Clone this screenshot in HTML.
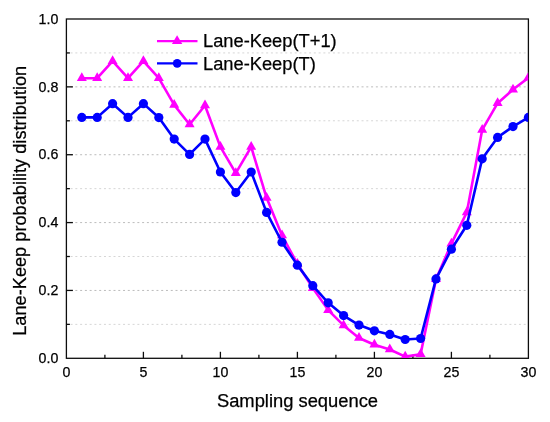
<!DOCTYPE html>
<html><head><meta charset="utf-8"><title>Lane-Keep probability distribution</title>
<style>html,body{margin:0;padding:0;background:#fff}svg{display:block}text{font-family:"Liberation Sans",Arial,sans-serif;fill:#000;stroke:#000;stroke-width:0.25px}</style></head><body>
<svg width="550" height="422" viewBox="0 0 550 422">
<rect width="550" height="422" fill="#fff"/>
<line x1="65.8" x2="528.4" y1="324.37" y2="324.37" stroke="#d6d6d6" stroke-width="1" stroke-dasharray="2 2.77"/>
<line x1="65.8" x2="528.4" y1="290.44" y2="290.44" stroke="#bcbcbc" stroke-width="1" stroke-dasharray="2 2.77"/>
<line x1="65.8" x2="528.4" y1="256.51" y2="256.51" stroke="#d6d6d6" stroke-width="1" stroke-dasharray="2 2.77"/>
<line x1="65.8" x2="528.4" y1="222.58" y2="222.58" stroke="#bcbcbc" stroke-width="1" stroke-dasharray="2 2.77"/>
<line x1="65.8" x2="528.4" y1="188.65" y2="188.65" stroke="#d6d6d6" stroke-width="1" stroke-dasharray="2 2.77"/>
<line x1="65.8" x2="528.4" y1="154.72" y2="154.72" stroke="#bcbcbc" stroke-width="1" stroke-dasharray="2 2.77"/>
<line x1="65.8" x2="528.4" y1="120.79" y2="120.79" stroke="#d6d6d6" stroke-width="1" stroke-dasharray="2 2.77"/>
<line x1="65.8" x2="528.4" y1="86.86" y2="86.86" stroke="#bcbcbc" stroke-width="1" stroke-dasharray="2 2.77"/>
<line x1="65.8" x2="528.4" y1="52.93" y2="52.93" stroke="#d6d6d6" stroke-width="1" stroke-dasharray="2 2.77"/>
<rect x="66.4" y="19.0" width="462.0" height="339.3" fill="none" stroke="#0d0d0d" stroke-width="1.3"/>
<line x1="66.4" x2="69.9" y1="324.37" y2="324.37" stroke="#0d0d0d" stroke-width="1.3"/>
<line x1="66.4" x2="72.9" y1="290.44" y2="290.44" stroke="#0d0d0d" stroke-width="1.3"/>
<line x1="66.4" x2="69.9" y1="256.51" y2="256.51" stroke="#0d0d0d" stroke-width="1.3"/>
<line x1="66.4" x2="72.9" y1="222.58" y2="222.58" stroke="#0d0d0d" stroke-width="1.3"/>
<line x1="66.4" x2="69.9" y1="188.65" y2="188.65" stroke="#0d0d0d" stroke-width="1.3"/>
<line x1="66.4" x2="72.9" y1="154.72" y2="154.72" stroke="#0d0d0d" stroke-width="1.3"/>
<line x1="66.4" x2="69.9" y1="120.79" y2="120.79" stroke="#0d0d0d" stroke-width="1.3"/>
<line x1="66.4" x2="72.9" y1="86.86" y2="86.86" stroke="#0d0d0d" stroke-width="1.3"/>
<line x1="66.4" x2="69.9" y1="52.93" y2="52.93" stroke="#0d0d0d" stroke-width="1.3"/>
<line x1="104.90" x2="104.90" y1="358.3" y2="354.8" stroke="#0d0d0d" stroke-width="1.3"/>
<line x1="143.40" x2="143.40" y1="358.3" y2="351.8" stroke="#0d0d0d" stroke-width="1.3"/>
<line x1="181.90" x2="181.90" y1="358.3" y2="354.8" stroke="#0d0d0d" stroke-width="1.3"/>
<line x1="220.40" x2="220.40" y1="358.3" y2="351.8" stroke="#0d0d0d" stroke-width="1.3"/>
<line x1="258.90" x2="258.90" y1="358.3" y2="354.8" stroke="#0d0d0d" stroke-width="1.3"/>
<line x1="297.40" x2="297.40" y1="358.3" y2="351.8" stroke="#0d0d0d" stroke-width="1.3"/>
<line x1="335.90" x2="335.90" y1="358.3" y2="354.8" stroke="#0d0d0d" stroke-width="1.3"/>
<line x1="374.40" x2="374.40" y1="358.3" y2="351.8" stroke="#0d0d0d" stroke-width="1.3"/>
<line x1="412.90" x2="412.90" y1="358.3" y2="354.8" stroke="#0d0d0d" stroke-width="1.3"/>
<line x1="451.40" x2="451.40" y1="358.3" y2="351.8" stroke="#0d0d0d" stroke-width="1.3"/>
<line x1="489.90" x2="489.90" y1="358.3" y2="354.8" stroke="#0d0d0d" stroke-width="1.3"/>
<defs><clipPath id="c"><rect x="66.4" y="19.0" width="461.80" height="339.00"/></clipPath></defs>
<g clip-path="url(#c)">
<polyline points="81.80,78.21 97.20,78.21 112.60,61.07 128.00,78.21 143.40,61.07 158.80,78.21 174.20,104.84 189.60,124.52 205.00,105.52 220.40,146.92 235.80,173.04 251.20,146.92 266.60,197.81 282.00,235.47 297.40,263.97 312.80,288.06 328.20,310.12 343.60,325.39 359.00,337.94 374.40,344.73 389.80,349.48 405.20,356.60 420.60,354.23 436.00,279.24 451.40,243.62 466.80,212.40 482.20,129.78 497.60,103.15 513.00,89.57 528.40,77.70" fill="none" stroke="#ff00ff" stroke-width="2.6" stroke-linejoin="round"/>
<polygon points="81.80,72.31 76.80,81.06 86.80,81.06" fill="#ff00ff"/>
<polygon points="97.20,72.31 92.20,81.06 102.20,81.06" fill="#ff00ff"/>
<polygon points="112.60,55.17 107.60,63.92 117.60,63.92" fill="#ff00ff"/>
<polygon points="128.00,72.31 123.00,81.06 133.00,81.06" fill="#ff00ff"/>
<polygon points="143.40,55.17 138.40,63.92 148.40,63.92" fill="#ff00ff"/>
<polygon points="158.80,72.31 153.80,81.06 163.80,81.06" fill="#ff00ff"/>
<polygon points="174.20,98.94 169.20,107.69 179.20,107.69" fill="#ff00ff"/>
<polygon points="189.60,118.62 184.60,127.37 194.60,127.37" fill="#ff00ff"/>
<polygon points="205.00,99.62 200.00,108.37 210.00,108.37" fill="#ff00ff"/>
<polygon points="220.40,141.02 215.40,149.77 225.40,149.77" fill="#ff00ff"/>
<polygon points="235.80,167.14 230.80,175.89 240.80,175.89" fill="#ff00ff"/>
<polygon points="251.20,141.02 246.20,149.77 256.20,149.77" fill="#ff00ff"/>
<polygon points="266.60,191.91 261.60,200.66 271.60,200.66" fill="#ff00ff"/>
<polygon points="282.00,229.57 277.00,238.32 287.00,238.32" fill="#ff00ff"/>
<polygon points="297.40,258.07 292.40,266.82 302.40,266.82" fill="#ff00ff"/>
<polygon points="312.80,282.16 307.80,290.91 317.80,290.91" fill="#ff00ff"/>
<polygon points="328.20,304.22 323.20,312.97 333.20,312.97" fill="#ff00ff"/>
<polygon points="343.60,319.49 338.60,328.24 348.60,328.24" fill="#ff00ff"/>
<polygon points="359.00,332.04 354.00,340.79 364.00,340.79" fill="#ff00ff"/>
<polygon points="374.40,338.83 369.40,347.58 379.40,347.58" fill="#ff00ff"/>
<polygon points="389.80,343.58 384.80,352.33 394.80,352.33" fill="#ff00ff"/>
<polygon points="405.20,350.70 400.20,359.45 410.20,359.45" fill="#ff00ff"/>
<polygon points="420.60,348.33 415.60,357.08 425.60,357.08" fill="#ff00ff"/>
<polygon points="436.00,273.34 431.00,282.09 441.00,282.09" fill="#ff00ff"/>
<polygon points="451.40,237.72 446.40,246.47 456.40,246.47" fill="#ff00ff"/>
<polygon points="466.80,206.50 461.80,215.25 471.80,215.25" fill="#ff00ff"/>
<polygon points="482.20,123.88 477.20,132.63 487.20,132.63" fill="#ff00ff"/>
<polygon points="497.60,97.25 492.60,106.00 502.60,106.00" fill="#ff00ff"/>
<polygon points="513.00,83.67 508.00,92.42 518.00,92.42" fill="#ff00ff"/>
<polygon points="528.40,71.80 523.40,80.55 533.40,80.55" fill="#ff00ff"/>
<polyline points="81.80,117.40 97.20,117.40 112.60,103.66 128.00,117.40 143.40,103.66 158.80,117.57 174.20,139.11 189.60,154.38 205.00,139.11 220.40,172.02 235.80,192.55 251.20,172.02 266.60,212.40 282.00,242.26 297.40,265.13 312.80,285.69 328.20,302.82 343.60,315.55 359.00,325.05 374.40,330.82 389.80,334.41 405.20,339.50 420.60,338.48 436.00,278.90 451.40,249.22 466.80,225.29 482.20,158.79 497.60,137.42 513.00,126.56 528.40,117.40" fill="none" stroke="#0000ff" stroke-width="2.6" stroke-linejoin="round"/>
<circle cx="81.80" cy="117.40" r="4.6" fill="#0000ff"/>
<circle cx="97.20" cy="117.40" r="4.6" fill="#0000ff"/>
<circle cx="112.60" cy="103.66" r="4.6" fill="#0000ff"/>
<circle cx="128.00" cy="117.40" r="4.6" fill="#0000ff"/>
<circle cx="143.40" cy="103.66" r="4.6" fill="#0000ff"/>
<circle cx="158.80" cy="117.57" r="4.6" fill="#0000ff"/>
<circle cx="174.20" cy="139.11" r="4.6" fill="#0000ff"/>
<circle cx="189.60" cy="154.38" r="4.6" fill="#0000ff"/>
<circle cx="205.00" cy="139.11" r="4.6" fill="#0000ff"/>
<circle cx="220.40" cy="172.02" r="4.6" fill="#0000ff"/>
<circle cx="235.80" cy="192.55" r="4.6" fill="#0000ff"/>
<circle cx="251.20" cy="172.02" r="4.6" fill="#0000ff"/>
<circle cx="266.60" cy="212.40" r="4.6" fill="#0000ff"/>
<circle cx="282.00" cy="242.26" r="4.6" fill="#0000ff"/>
<circle cx="297.40" cy="265.13" r="4.6" fill="#0000ff"/>
<circle cx="312.80" cy="285.69" r="4.6" fill="#0000ff"/>
<circle cx="328.20" cy="302.82" r="4.6" fill="#0000ff"/>
<circle cx="343.60" cy="315.55" r="4.6" fill="#0000ff"/>
<circle cx="359.00" cy="325.05" r="4.6" fill="#0000ff"/>
<circle cx="374.40" cy="330.82" r="4.6" fill="#0000ff"/>
<circle cx="389.80" cy="334.41" r="4.6" fill="#0000ff"/>
<circle cx="405.20" cy="339.50" r="4.6" fill="#0000ff"/>
<circle cx="420.60" cy="338.48" r="4.6" fill="#0000ff"/>
<circle cx="436.00" cy="278.90" r="4.6" fill="#0000ff"/>
<circle cx="451.40" cy="249.22" r="4.6" fill="#0000ff"/>
<circle cx="466.80" cy="225.29" r="4.6" fill="#0000ff"/>
<circle cx="482.20" cy="158.79" r="4.6" fill="#0000ff"/>
<circle cx="497.60" cy="137.42" r="4.6" fill="#0000ff"/>
<circle cx="513.00" cy="126.56" r="4.6" fill="#0000ff"/>
<circle cx="528.40" cy="117.40" r="4.6" fill="#0000ff"/>
</g>
<text x="58.3" y="362.9" font-size="14.2" text-anchor="end">0.0</text>
<text x="58.3" y="295.0" font-size="14.2" text-anchor="end">0.2</text>
<text x="58.3" y="227.2" font-size="14.2" text-anchor="end">0.4</text>
<text x="58.3" y="159.3" font-size="14.2" text-anchor="end">0.6</text>
<text x="58.3" y="91.5" font-size="14.2" text-anchor="end">0.8</text>
<text x="58.3" y="23.6" font-size="14.2" text-anchor="end">1.0</text>
<text x="66.4" y="376.9" font-size="14.2" text-anchor="middle">0</text>
<text x="143.4" y="376.9" font-size="14.2" text-anchor="middle">5</text>
<text x="220.4" y="376.9" font-size="14.2" text-anchor="middle">10</text>
<text x="297.4" y="376.9" font-size="14.2" text-anchor="middle">15</text>
<text x="374.4" y="376.9" font-size="14.2" text-anchor="middle">20</text>
<text x="451.4" y="376.9" font-size="14.2" text-anchor="middle">25</text>
<text x="528.4" y="376.9" font-size="14.2" text-anchor="middle">30</text>
<text x="297.5" y="406.6" font-size="18.35" text-anchor="middle">Sampling sequence</text>
<text transform="translate(25.8,200.8) rotate(-90)" font-size="18.2" text-anchor="middle">Lane-Keep probability distribution</text>
<line x1="157" x2="197.5" y1="41.1" y2="41.1" stroke="#ff00ff" stroke-width="2.2"/>
<polygon points="177.1,35.3 171.9,44.1 182.3,44.1" fill="#ff00ff"/>
<text x="203.0" y="47.4" font-size="18.3">Lane-Keep(T+1)</text>
<line x1="157" x2="197.5" y1="63.3" y2="63.3" stroke="#0000ff" stroke-width="2.2"/>
<circle cx="177.2" cy="63.3" r="4.4" fill="#0000ff"/>
<text x="203.0" y="69.8" font-size="18.3">Lane-Keep(T)</text>
</svg></body></html>
